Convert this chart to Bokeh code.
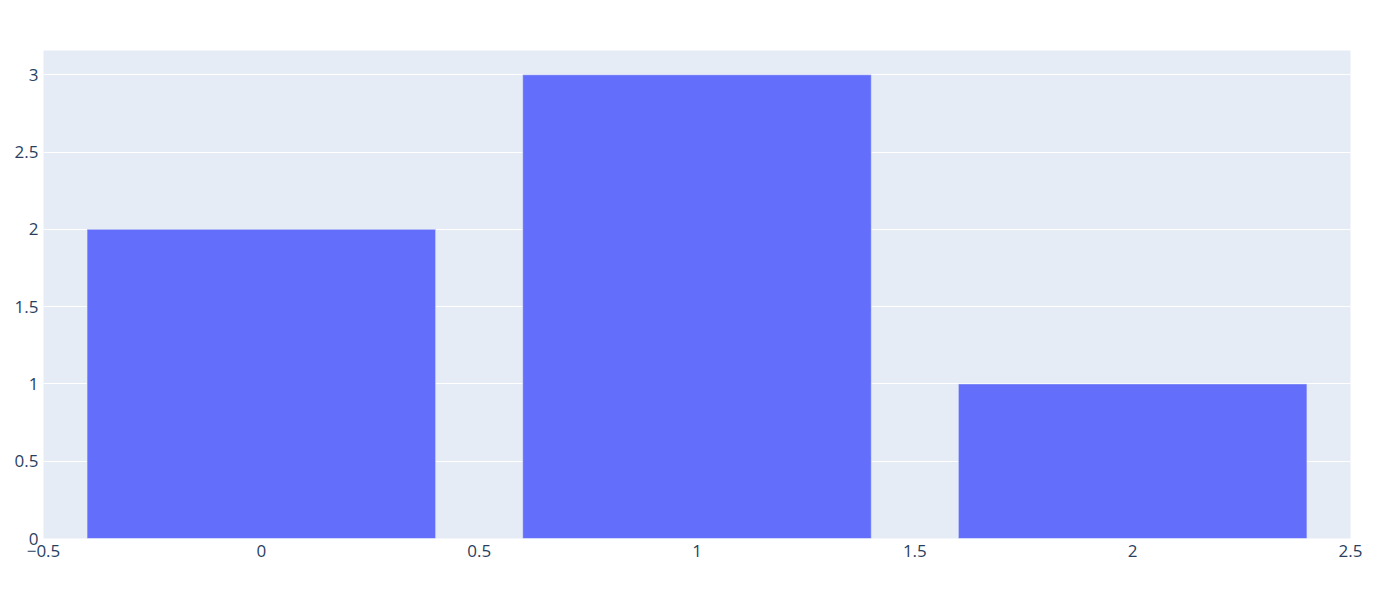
from bokeh.embed import file_html
from bokeh.models import ColumnDataSource, FixedTicker, CustomJSTickFormatter, Range1d
from bokeh.plotting import figure
from bokeh.resources import INLINE

# data
xs = [0, 1, 2]
ys = [2, 3, 1]
x_ticks = [-0.5, 0, 0.5, 1, 1.5, 2, 2.5]
y_ticks = [0, 0.5, 1, 1.5, 2, 2.5, 3]

src = ColumnDataSource(data=dict(x=xs, top=ys))

p = figure(frame_width=1307, frame_height=488,
           x_range=Range1d(-0.5, 2.5), y_range=Range1d(0, 3.157),
           output_backend="svg", toolbar_location=None,
           min_border_left=43, min_border_top=50,
           min_border_right=40, min_border_bottom=55)

p.vbar(x="x", top="top", width=0.8, source=src,
       fill_color="#636efa", line_color="#e5ecf6", line_width=0.5)

p.background_fill_color = "#e5ecf6"
p.border_fill_color = "white"
p.outline_line_color = None

p.xgrid.grid_line_color = None
p.ygrid.grid_line_color = "white"
p.ygrid.grid_line_width = 1
p.ygrid.level = "image"

fmt = "return String(tick).replace('-', '\u2212');"
p.xaxis.ticker = FixedTicker(ticks=x_ticks)
p.yaxis.ticker = FixedTicker(ticks=y_ticks)
for ax in (p.xaxis, p.yaxis):
    ax.formatter = CustomJSTickFormatter(code=fmt)
    ax.axis_line_color = None
    ax.major_tick_line_color = None
    ax.minor_tick_line_color = None
    ax.major_tick_out = 0
    ax.major_tick_in = 0
    ax.minor_tick_out = 0
    ax.major_label_text_color = "#2a3f5f"
    ax.major_label_text_font = "Open Sans"
    ax.major_label_text_font_size = "17px"
p.yaxis.major_label_standoff = 5
p.xaxis.major_label_standoff = 6

open("out.html", "w").write(file_html(p, INLINE))
